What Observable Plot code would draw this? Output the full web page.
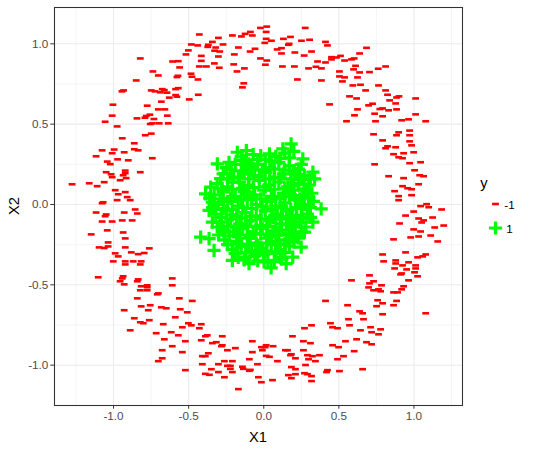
<!DOCTYPE html>
<html>
<head>
<meta charset="utf-8">
<script src="https://cdn.jsdelivr.net/npm/d3@7"></script>
<script src="https://cdn.jsdelivr.net/npm/@observablehq/plot@0.6"></script>
<style>
  html, body { margin: 0; padding: 0; background: #fff; }
  #chart { width: 536px; height: 449px; }
  g[aria-label="x-axis tick label"], g[aria-label="y-axis tick label"] { fill: #4D4D4D; }
</style>
</head>
<body>
<div id="chart"></div>
<script>
// class y = -1 (outer ring), points [X1, X2]
const ringPoints = [
[-0.429,1.058],[-0.302,1.037],[-0.209,1.052],[-0.124,1.062],[-0.089,1.074],[-0.022,1.099],[-0.149,1.046],[-0.076,1.052],[-0.342,1.012],[-0.482,0.996],[-0.440,0.990],[-0.369,0.994],[-0.320,0.977],[-0.271,0.996],[-0.373,0.981],[-0.502,0.959],[-0.327,0.957],[-0.293,0.952],[-0.169,0.977],[-0.058,0.969],[-0.091,0.952],[-0.518,0.934],[-0.416,0.925],[-0.302,0.921],[-0.196,0.934],[-0.022,0.909],[-0.822,0.909],[-0.607,0.890],[-0.569,0.892],[-0.416,0.894],[-0.329,0.878],[-0.560,0.853],[-0.429,0.859],[-0.382,0.859],[-0.296,0.851],[-0.200,0.872],[-0.129,0.847],[-0.178,0.828],[-0.738,0.828],[-0.702,0.803],[-0.484,0.814],[-0.571,0.801],[-0.578,0.793],[-0.478,0.795],[-0.438,0.778],[-0.849,0.772],[-0.133,0.754],[-0.142,0.729],[-0.933,0.710],[-0.944,0.704],[-0.749,0.710],[-0.724,0.704],[-0.676,0.718],[-0.662,0.712],[-0.569,0.724],[-0.587,0.718],[-0.689,0.698],[-0.644,0.696],[-0.587,0.681],[-0.578,0.671],[-0.629,0.665],[-0.436,0.683],[-0.496,0.654],[-0.682,0.640],[-1.004,0.621],[-0.776,0.615],[-0.702,0.592],[-0.658,0.592],[-1.009,0.553],[-0.782,0.551],[-0.758,0.559],[-0.844,0.536],[-0.791,0.540],[-0.731,0.532],[-0.642,0.553],[-1.056,0.515],[-0.756,0.501],[-0.742,0.505],[-0.696,0.505],[-0.636,0.505],[-0.976,0.486],[-0.749,0.441],[-0.789,0.431],[-0.942,0.412],[-0.862,0.381],[-0.862,0.344],[-0.836,0.337],[-1.076,0.337],[-0.996,0.342],[-1.009,0.319],[-0.929,0.325],[-1.116,0.300],[-0.973,0.281],[-0.902,0.275],[-0.742,0.288],[-1.042,0.267],[-1.022,0.251],[-1.049,0.201],[-1.016,0.188],[-0.922,0.211],[-0.922,0.195],[-0.936,0.182],[-0.822,0.201],[-1.009,0.170],[-0.916,0.164],[-0.956,0.151],[-1.062,0.139],[-1.162,0.132],[-1.276,0.126],[-1.109,0.114],[-0.989,0.089],[-0.922,0.077],[-0.969,0.064],[-0.909,0.046],[-0.976,0.027],[-0.889,0.027],[-1.069,0.014],[-1.076,0.008],
[0.020,1.107],[0.016,1.074],[0.276,1.099],[0.016,1.031],[0.051,1.019],[0.131,1.031],[0.178,1.043],[0.007,1.006],[0.169,1.000],[0.164,0.994],[0.251,1.019],[0.305,1.025],[0.411,1.012],[0.424,0.990],[0.089,0.965],[0.118,0.973],[0.118,0.940],[0.207,0.946],[0.269,0.927],[0.318,0.952],[0.684,0.975],[0.638,0.940],[0.020,0.896],[0.011,0.870],[0.358,0.890],[0.411,0.884],[0.451,0.917],[0.451,0.903],[0.484,0.915],[0.511,0.925],[0.538,0.896],[0.584,0.903],[0.602,0.909],[0.611,0.863],[0.124,0.859],[0.204,0.859],[0.298,0.847],[0.347,0.857],[0.384,0.847],[0.504,0.828],[0.598,0.841],[0.638,0.822],[0.704,0.824],[0.762,0.845],[0.811,0.859],[0.224,0.778],[0.384,0.772],[0.504,0.797],[0.538,0.791],[0.524,0.766],[0.624,0.791],[0.593,0.741],[0.644,0.745],[0.764,0.741],[0.678,0.710],[0.811,0.710],[0.824,0.683],[0.571,0.673],[0.618,0.660],[0.884,0.666],[0.900,0.673],[0.838,0.648],[1.011,0.660],[0.438,0.623],[0.724,0.627],[0.698,0.617],[0.878,0.629],[0.624,0.592],[0.773,0.594],[0.791,0.598],[0.831,0.586],[0.884,0.592],[0.738,0.565],[0.604,0.555],[0.791,0.549],[1.011,0.561],[0.551,0.518],[0.744,0.518],[0.918,0.524],[0.964,0.530],[1.078,0.518],[0.731,0.437],[0.898,0.449],[0.971,0.460],[0.884,0.431],[0.971,0.431],[0.791,0.399],[0.971,0.393],[0.824,0.362],[0.811,0.350],[0.878,0.356],[0.984,0.368],[0.864,0.313],[0.931,0.319],[0.998,0.325],[0.898,0.294],[0.924,0.288],[0.738,0.250],[0.971,0.257],[1.044,0.263],[1.004,0.213],[0.831,0.176],[1.038,0.182],[1.064,0.176],[0.931,0.164],[1.031,0.126],[0.924,0.114],[0.958,0.101],[0.984,0.095],[0.871,0.083],[0.984,0.058],[0.898,0.052],[0.898,0.027],[1.084,0.002],[1.044,-0.010],[1.098,-0.017],
[-1.116,-0.050],[-1.049,-0.062],[-1.056,-0.073],[-0.929,-0.050],[-0.842,-0.056],[-0.856,-0.031],[-1.076,-0.106],[-1.009,-0.106],[-0.942,-0.099],[-0.876,-0.099],[-1.149,-0.186],[-1.042,-0.161],[-0.936,-0.174],[-0.922,-0.211],[-1.036,-0.236],[-1.096,-0.267],[-1.062,-0.271],[-1.036,-0.261],[-0.922,-0.267],[-0.762,-0.273],[-0.989,-0.304],[-0.882,-0.298],[-0.836,-0.309],[-0.796,-0.302],[-0.969,-0.323],[-1.002,-0.354],[-0.922,-0.354],[-0.869,-0.354],[-0.816,-0.354],[-0.922,-0.373],[-0.822,-0.373],[-1.102,-0.453],[-0.936,-0.447],[-0.942,-0.460],[-0.956,-0.478],[-0.929,-0.497],[-0.836,-0.466],[-0.842,-0.478],[-0.816,-0.509],[-0.776,-0.503],[-0.776,-0.515],[-0.822,-0.534],[-0.776,-0.534],[-0.609,-0.460],[-0.609,-0.503],[-0.702,-0.553],[-0.709,-0.559],[-0.842,-0.584],[-0.562,-0.584],[-0.476,-0.600],[-0.816,-0.634],[-0.756,-0.627],[-0.682,-0.640],[-0.649,-0.646],[-0.929,-0.658],[-0.769,-0.658],[-0.556,-0.652],[-0.509,-0.671],[-0.862,-0.708],[-0.589,-0.702],[-0.762,-0.720],[-0.822,-0.733],[-0.802,-0.739],[-0.669,-0.745],[-0.502,-0.739],[-0.482,-0.752],[-0.416,-0.745],[-0.542,-0.764],[-0.429,-0.770],[-0.889,-0.783],[-0.716,-0.801],[-0.616,-0.795],[-0.569,-0.814],[-0.376,-0.814],[-0.389,-0.820],[-0.276,-0.820],[-0.662,-0.839],[-0.416,-0.845],[-0.522,-0.851],[-0.342,-0.863],[-0.316,-0.857],[-0.076,-0.851],[-0.609,-0.882],[-0.276,-0.876],[-0.282,-0.882],[-0.189,-0.894],[-0.016,-0.888],[-0.676,-0.907],[-0.242,-0.907],[-0.542,-0.919],[-0.369,-0.926],[-0.389,-0.944],[-0.409,-0.944],[-0.676,-0.957],[-0.702,-0.975],[-0.262,-0.975],[-0.209,-0.975],[-0.096,-0.963],[-0.409,-0.994],[-0.302,-0.994],[-0.242,-1.004],[-0.222,-1.004],[-0.042,-0.994],[-0.349,-1.025],[-0.222,-1.023],[-0.142,-1.010],[-0.136,-1.023],[-0.089,-1.029],[-0.522,-1.031],[-0.302,-1.043],[-0.209,-1.043],[-0.096,-1.035],[-0.389,-1.054],[-0.362,-1.060],[-0.262,-1.075],[-0.036,-1.075],[-0.016,-1.106],[-0.169,-1.149],[-0.076,-0.919],[-0.009,-0.907],
[1.184,-0.031],[0.998,-0.044],[0.944,-0.069],[1.124,-0.081],[1.031,-0.087],[1.064,-0.099],[1.051,-0.112],[0.904,-0.118],[1.198,-0.131],[1.138,-0.143],[0.998,-0.155],[1.044,-0.168],[1.111,-0.193],[1.031,-0.199],[0.978,-0.205],[0.864,-0.217],[1.158,-0.230],[0.944,-0.298],[0.791,-0.311],[1.078,-0.311],[1.058,-0.323],[1.024,-0.329],[0.798,-0.354],[0.878,-0.348],[0.878,-0.367],[0.964,-0.360],[0.924,-0.379],[1.011,-0.379],[0.871,-0.398],[0.951,-0.404],[1.011,-0.398],[1.004,-0.422],[0.918,-0.429],[0.911,-0.435],[1.024,-0.447],[0.704,-0.441],[0.584,-0.472],[0.731,-0.478],[0.704,-0.491],[0.964,-0.472],[0.784,-0.503],[0.698,-0.516],[0.764,-0.528],[0.731,-0.534],[0.778,-0.540],[0.931,-0.509],[0.918,-0.528],[0.864,-0.547],[0.891,-0.547],[0.411,-0.600],[0.758,-0.596],[0.884,-0.600],[0.791,-0.615],[0.558,-0.627],[0.751,-0.633],[0.864,-0.627],[0.638,-0.665],[0.658,-0.677],[0.791,-0.683],[1.078,-0.677],[0.564,-0.714],[0.664,-0.714],[0.444,-0.739],[0.318,-0.752],[0.271,-0.770],[0.458,-0.764],[0.491,-0.770],[0.571,-0.752],[0.711,-0.764],[0.778,-0.777],[0.644,-0.783],[0.718,-0.795],[0.764,-0.808],[0.191,-0.820],[0.618,-0.839],[0.684,-0.857],[0.718,-0.870],[0.264,-0.851],[0.311,-0.863],[0.544,-0.851],[0.458,-0.876],[0.498,-0.888],[0.016,-0.876],[0.009,-0.888],[0.062,-0.882],[0.144,-0.907],[0.158,-0.907],[0.264,-0.907],[0.602,-0.913],[0.016,-0.942],[0.038,-0.948],[0.184,-0.932],[0.178,-0.938],[0.211,-0.957],[0.291,-0.938],[0.324,-0.944],[0.371,-0.938],[0.298,-0.963],[0.344,-0.975],[0.531,-0.944],[0.491,-0.963],[0.091,-0.975],[0.278,-0.999],[0.184,-1.012],[0.211,-1.025],[0.424,-1.031],[0.418,-1.043],[0.504,-1.037],[0.658,-1.025],[0.271,-1.050],[0.291,-1.056],[0.318,-1.068],[0.164,-1.062],[0.211,-1.056],[0.184,-1.081],[0.058,-1.093],[0.318,-1.099]
];

// class y = 1 (central disc), points [X1, X2]
const corePoints = [
[-0.116,0.335],[-0.176,0.325],[-0.020,0.304],[-0.309,0.253],[-0.231,0.263],[-0.142,0.273],[-0.098,0.253],[-0.387,0.066],[-0.353,0.108],[-0.342,0.014],[-0.364,-0.037],[-0.342,-0.110],[-0.420,-0.203],[-0.364,-0.213],[-0.331,-0.286],[-0.209,-0.348],[-0.120,-0.327],[-0.098,-0.368],[0.002,-0.358],[-0.264,-0.172],[-0.287,0.161],[-0.209,0.139],
[0.182,0.377],[0.127,0.346],[0.038,0.315],[0.260,0.284],[0.327,0.201],[0.338,0.160],[0.282,0.098],[0.382,-0.027],[0.327,-0.110],[0.271,-0.172],[0.249,-0.265],[0.193,-0.327],[0.149,-0.368],[0.049,-0.395],[0.027,-0.348],[0.082,-0.296],[0.216,-0.068],[0.204,0.056],[0.238,0.180],
[-0.15,0.30],[-0.07,0.31],[0.01,0.28],[0.08,0.30],[0.14,0.32],[0.20,0.33],
[-0.25,0.23],[-0.19,0.25],[-0.11,0.22],[-0.04,0.25],[0.04,0.23],[0.10,0.26],[0.17,0.24],[0.23,0.22],
[-0.27,0.19],[-0.20,0.17],[-0.13,0.20],[-0.06,0.18],[0.01,0.20],[0.07,0.17],[0.13,0.19],[0.20,0.21],[0.27,0.18],
[-0.31,0.13],[-0.24,0.11],[-0.16,0.14],[-0.10,0.12],[-0.03,0.15],[0.04,0.12],[0.10,0.14],[0.16,0.11],[0.23,0.13],[0.30,0.12],
[-0.33,0.06],[-0.27,0.08],[-0.19,0.05],[-0.13,0.08],[-0.06,0.06],[0.00,0.09],[0.06,0.05],[0.13,0.07],[0.19,0.09],[0.26,0.05],[0.32,0.07],
[-0.30,0.00],[-0.24,0.02],[-0.17,-0.01],[-0.11,0.03],[-0.05,0.00],[0.02,0.02],[0.08,-0.01],[0.14,0.01],[0.21,0.03],[0.27,0.00],[0.33,0.02],
[-0.32,-0.06],[-0.25,-0.04],[-0.18,-0.07],[-0.12,-0.05],[-0.05,-0.07],[0.01,-0.04],[0.09,-0.06],[0.15,-0.04],[0.22,-0.02],[0.29,-0.06],
[-0.29,-0.11],[-0.22,-0.09],[-0.16,-0.12],[-0.09,-0.10],[-0.02,-0.13],[0.04,-0.10],[0.11,-0.12],[0.17,-0.09],[0.24,-0.11],[0.31,-0.08],
[-0.27,-0.16],[-0.20,-0.17],[-0.14,-0.15],[-0.07,-0.18],[-0.01,-0.15],[0.06,-0.17],[0.12,-0.16],[0.19,-0.14],[0.25,-0.17],
[-0.26,-0.22],[-0.18,-0.23],[-0.11,-0.21],[-0.05,-0.24],[0.02,-0.21],[0.08,-0.23],[0.15,-0.22],[0.21,-0.20],
[-0.21,-0.28],[-0.15,-0.26],[-0.08,-0.29],[-0.02,-0.27],[0.05,-0.25],[0.11,-0.28],[0.17,-0.26],
[-0.17,-0.33],[-0.06,-0.32],[0.00,-0.31],[0.11,-0.33],
[-0.12,0.275],[-0.04,0.28],[0.05,0.27],[0.11,0.285],[0.17,0.29],
[-0.22,0.215],[-0.15,0.21],[-0.08,0.23],[-0.01,0.215],[0.07,0.22],[0.14,0.215],[0.21,0.19],[0.25,0.25],
[-0.24,0.16],[-0.17,0.165],[-0.10,0.16],[-0.03,0.17],[0.04,0.16],[0.11,0.165],[0.18,0.16],[0.25,0.155],[0.31,0.16],
[-0.28,0.10],[-0.21,0.095],[-0.14,0.10],[-0.07,0.105],[0.01,0.11],[0.07,0.095],[0.14,0.10],[0.20,0.115],[0.27,0.09],
[-0.36,0.04],[-0.29,0.035],[-0.22,0.04],[-0.15,0.03],[-0.08,0.045],[-0.02,0.035],[0.05,0.04],[0.11,0.035],[0.17,0.05],[0.24,0.035],[0.30,0.04],
[-0.34,-0.02],[-0.27,-0.025],[-0.21,-0.03],[-0.14,-0.02],[-0.08,-0.025],[-0.01,-0.015],[0.05,-0.03],[0.12,-0.02],[0.18,-0.03],[0.25,-0.025],[0.31,-0.02],
[-0.28,-0.08],[-0.21,-0.065],[-0.15,-0.085],[-0.08,-0.075],[-0.02,-0.09],[0.06,-0.08],[0.12,-0.075],[0.19,-0.07],[0.26,-0.085],
[-0.31,-0.14],[-0.24,-0.135],[-0.18,-0.145],[-0.11,-0.135],[-0.05,-0.14],[0.02,-0.135],[0.08,-0.14],[0.15,-0.125],[0.21,-0.13],[0.28,-0.14],
[-0.30,-0.19],[-0.23,-0.195],[-0.16,-0.19],[-0.09,-0.20],[-0.02,-0.185],[0.04,-0.195],[0.10,-0.19],[0.17,-0.18],[0.23,-0.21],
[-0.24,-0.25],[-0.17,-0.245],[-0.10,-0.25],[-0.04,-0.255],[0.02,-0.24],[0.09,-0.25],[0.14,-0.245],[0.20,-0.235],
[-0.19,-0.305],[-0.12,-0.30],[-0.05,-0.295],[0.02,-0.29],[0.08,-0.305],[0.14,-0.30],
[-0.13,-0.345],[-0.04,-0.35],[0.07,-0.355],[0.12,-0.34]
];

const classLabels = ["-1", "1"];
const classColors = ["#FF0000", "#00FF00"];
const majorTicks = [-1.0, -0.5, 0.0, 0.5, 1.0];
const minorXTicks = [-1.25, -0.75, -0.25, 0.25, 0.75, 1.25];
const minorYTicks = [-1.25, -0.75, -0.25, 0.25, 0.75];

const toRows = (pts, cls) => pts.map(([x, y]) => ({x, y, cls}));
const ringRows = toRows(ringPoints, classLabels[0]);
const coreRows = toRows(corePoints, classLabels[1]);

// custom glyphs (ggplot shapes "-" and "+")
const minusSymbol = { draw(ctx) {
  const w = 3.4, h = 1.3;
  ctx.moveTo(-w, -h); ctx.lineTo(w, -h); ctx.lineTo(w, h); ctx.lineTo(-w, h); ctx.closePath();
}};
const plusSymbol = { draw(ctx) {
  const a = 6.6, t = 1.6;
  ctx.moveTo(-t, -a); ctx.lineTo(t, -a); ctx.lineTo(t, -t); ctx.lineTo(a, -t); ctx.lineTo(a, t);
  ctx.lineTo(t, t); ctx.lineTo(t, a); ctx.lineTo(-t, a); ctx.lineTo(-t, t); ctx.lineTo(-a, t);
  ctx.lineTo(-a, -t); ctx.lineTo(-t, -t); ctx.closePath();
}};

const fmt = d => d.toFixed(1);

const svg = Plot.plot({
  width: 536,
  height: 449,
  marginLeft: 54,
  marginRight: 74,
  marginTop: 7,
  marginBottom: 44,
  style: { fontFamily: "'Liberation Sans', Arial, sans-serif", background: "#fff", color: "#333333" },
  x: { domain: [-1.393, 1.323] },
  y: { domain: [-1.251, 1.226] },
  marks: [
    Plot.ruleX(minorXTicks, { stroke: "#EBEBEB", strokeWidth: 0.55 }),
    Plot.ruleY(minorYTicks, { stroke: "#EBEBEB", strokeWidth: 0.55 }),
    Plot.ruleX(majorTicks, { stroke: "#EBEBEB", strokeWidth: 1.07 }),
    Plot.ruleY(majorTicks, { stroke: "#EBEBEB", strokeWidth: 1.07 }),
    Plot.dot(ringRows, { x: "x", y: "y", symbol: minusSymbol, fill: classColors[0], stroke: "none" }),
    Plot.dot(coreRows, { x: "x", y: "y", symbol: plusSymbol, fill: classColors[1], stroke: "none" }),
    Plot.frame({ stroke: "#333333", strokeWidth: 1.07 }),
    Plot.axisX({ ticks: majorTicks, tickFormat: fmt, tickSize: 3.7, tickPadding: 2.5, fontSize: 11.7, label: null, stroke: "#333333" }),
    Plot.axisY({ ticks: majorTicks, tickFormat: fmt, tickSize: 3.7, tickPadding: 2.5, fontSize: 11.7, label: null, stroke: "#333333" })
  ]
});

const s = d3.select(svg);
// axis titles
s.append("text").attr("x", 258).attr("y", 437).attr("text-anchor", "middle").attr("dominant-baseline", "central")
  .attr("font-size", 14.7).attr("fill", "#000").text("X1");
s.append("text").attr("transform", "translate(14,206) rotate(-90)").attr("text-anchor", "middle").attr("dominant-baseline", "central")
  .attr("font-size", 14.7).attr("fill", "#000").text("X2");
// legend
const lg = s.append("g");
lg.append("text").attr("x", 484).attr("y", 183).attr("dominant-baseline", "central").attr("font-size", 14.7).attr("fill", "#000").text("y");
const keyY = [204, 228];
const keyPaths = [d3.symbol(minusSymbol)(), d3.symbol(plusSymbol)()];
classLabels.forEach((lab, i) => {
  lg.append("path").attr("transform", `translate(495.5,${keyY[i]})`).attr("d", keyPaths[i]).attr("fill", classColors[i]);
  lg.append("text").attr("x", 509.5).attr("y", keyY[i]).attr("dominant-baseline", "central").attr("font-size", 11.7).attr("fill", "#000").text(lab);
});

document.getElementById("chart").appendChild(svg);
</script>
</body>
</html>
